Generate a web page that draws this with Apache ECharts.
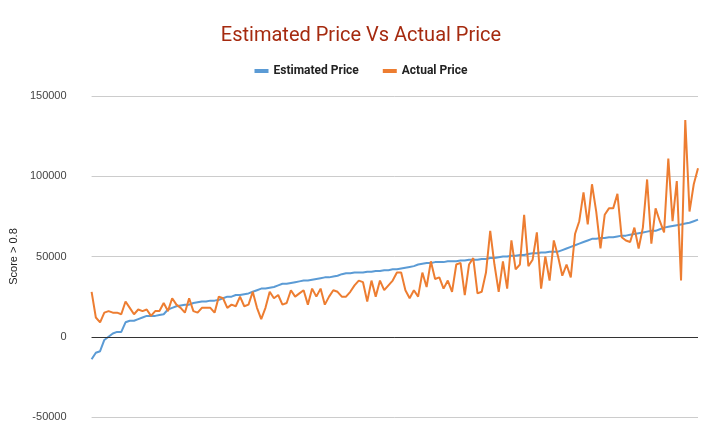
<!DOCTYPE html><html><head><meta charset="utf-8"><script src="https://cdn.jsdelivr.net/npm/echarts@6/dist/echarts.min.js"></script>
<style>html,body{margin:0;padding:0;background:#fff}#c{width:722px;height:447px}</style></head><body><div id="c"></div><script>
const estimated=[-14000,-10000,-9000,-2000,0,2000,3000,3000,9000,10000,
10000,11000,12000,13000,13000,13000,13500,14000,17000,18000,
19000,19500,20000,20000,21000,21500,22000,22000,22500,22500,
23000,24000,25000,25000,26000,26000,26500,27000,28000,29000,
30000,30000,30500,31000,32000,33000,33000,33500,34000,34500,
35000,35000,35500,36000,36500,37000,37000,37500,38000,39000,
39500,39500,40000,40000,40000,40500,40500,41000,41000,41500,
41500,42000,42000,42500,43000,43500,44000,45000,45500,46000,
46000,46500,46500,46500,47000,47000,47000,47500,47500,48000,
48000,48000,48500,48500,49000,49000,49500,50000,50000,50500,
50500,51000,51000,51500,52000,52000,52500,52500,53000,53000,
53000,54000,55000,56000,57000,58000,59000,60000,61000,61000,
61500,61500,62000,62000,62500,63000,63000,63500,64000,64500,
65000,65500,66000,66000,67000,68000,68500,69000,69500,70000,
70500,71000,72000,73000];
const actual=[28000,12000,9000,15000,16000,15000,15000,14000,22000,18000,
14000,17000,16000,17000,13000,16000,16000,21000,16000,24000,
20000,18000,15000,24000,16000,15000,18000,18000,18000,15000,
25000,24000,18000,20000,19000,25000,19000,20000,28000,18000,
11000,18000,28000,24000,26000,20000,21000,29000,25000,27000,
29000,20000,30000,25000,30000,20000,25000,29000,28000,25000,
25000,28000,32000,35000,34000,22000,35000,25000,35000,29000,
32000,35000,40000,40000,29000,24000,29000,25000,40000,31000,
47000,36000,37000,30000,35000,28000,45000,46000,26000,45000,
49000,27000,28000,40000,66000,45000,28000,47000,30000,60000,
42000,45000,76000,44000,48000,65000,30000,50000,35000,60000,
50000,38000,45000,37000,64000,72000,90000,70000,95000,78000,
55000,76000,80000,80000,89000,62000,60000,59000,68000,55000,
68000,98000,58000,80000,72000,65000,111000,72000,97000,35000,
135000,78000,95000,105000];
const categories=estimated.map((_,i)=>String(i+1));
const c=echarts.init(document.getElementById('c'));
c.setOption({
 animation:false,
 title:{text:'Estimated Price Vs Actual Price',left:'center',top:21,textStyle:{color:'#a52a0f',fontSize:20,fontWeight:'normal',fontFamily:'Roboto'}},
 legend:{top:60,left:'center',itemWidth:14,itemHeight:4,itemGap:24,icon:'rect',textStyle:{fontSize:12,fontWeight:'bold',color:'#222',fontFamily:'Roboto'}},
 grid:{left:85,right:24,top:96,bottom:30},
 xAxis:{type:'category',data:categories,boundaryGap:false,axisLabel:{show:false},axisTick:{show:false},axisLine:{show:false}},
 yAxis:{type:'value',min:-50000,max:150000,interval:50000,name:'Score > 0.8',nameLocation:'middle',nameGap:52,nameTextStyle:{fontSize:11,color:'#222'},
  axisLabel:{fontSize:11,color:'#444',margin:25,formatter:v=>String(v)},axisLine:{show:false},axisTick:{show:false},splitLine:{lineStyle:{color:'#ccc'}}},
 series:[
  {name:'Estimated Price',type:'line',data:estimated,showSymbol:false,lineStyle:{width:2,color:'#5b9bd5'},itemStyle:{color:'#5b9bd5'},
   markLine:{silent:true,symbol:'none',label:{show:false},lineStyle:{color:'#333',type:'solid',width:1},data:[{yAxis:0}]}},
  {name:'Actual Price',type:'line',data:actual,showSymbol:false,lineStyle:{width:2,color:'#ed7d31'},itemStyle:{color:'#ed7d31'}}
 ]
});
</script></body></html>
